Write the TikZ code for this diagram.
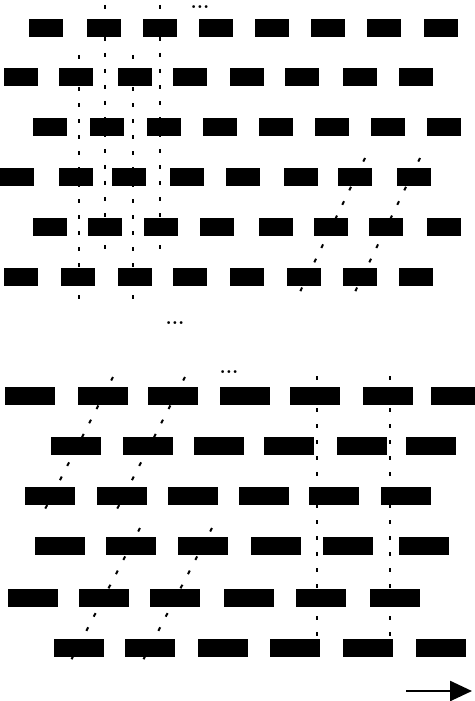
\documentclass[tikz,border=0pt]{standalone}
\usetikzlibrary{arrows.meta}
\tikzset{
  brick/.style={fill=black, inner sep=0pt, minimum height=18pt},
  short/.style={brick, minimum width=34pt},
  long/.style={brick, minimum width=50pt},
  guide/.style={line width=2pt, dash pattern=on 4pt off 12pt},
  gap/.style={font=\fontsize{20}{20}\selectfont\bfseries, inner sep=0pt}
}
\begin{document}
\begin{tikzpicture}[x=1pt,y=-1pt]
  \useasboundingbox (0,0) rectangle (474,701);
  % upper wall
  \foreach \y/\row [count=\r] in {28/{29,87,143,199,255,311,367,424},
      77/{4,59,118,173,230,285,343,399},
      127/{33,90,147,203,259,315,371,427},
      177/{0,59,112,170,226,284,338,397},
      227/{33,88,144,200,259,314,369,427},
      277/{4,61,118,173,230,287,343,399}}
    \foreach \x [count=\i] in \row
      \node[short] (u\r-\i) at (\x+17,\y) {};
  % lower wall
  \foreach \y/\row [count=\r] in {396/{5,78,148,220,290,363,431},
      446/{51,123,194,264,337,406},
      496/{25,97,168,239,309,381},
      546/{35,106,178,251,323,399},
      598/{8,79,150,224,296,370},
      648/{54,125,198,270,343,416}}
    \foreach \x [count=\i] in \row
      \node[long] (l\r-\i) at (\x+25,\y) {};
  \node[gap] (top) at (200,7) {...};
  \node[gap] (mid) at (175,323) {...};
  \node[gap] (low) at (229,372) {...};
  \coordinate (a1) at (79,55);   \coordinate (a2) at (79,305);
  \coordinate (b1) at (105,5);   \coordinate (b2) at (105,258);
  \coordinate (c1) at (133,55);  \coordinate (c2) at (133,305);
  \coordinate (d1) at (160,5);   \coordinate (d2) at (160,258);
  \coordinate (e1) at (365,158); \coordinate (e2) at (297,298);
  \coordinate (f1) at (420,158); \coordinate (f2) at (352,298);
  \coordinate (g1) at (113,377); \coordinate (g2) at (42,515);
  \coordinate (h1) at (185,377); \coordinate (h2) at (114,515);
  \coordinate (i1) at (140,528); \coordinate (i2) at (68,666);
  \coordinate (j1) at (212,528); \coordinate (j2) at (140,666);
  \coordinate (k1) at (317,376); \coordinate (k2) at (317,645);
  \coordinate (m1) at (390,376); \coordinate (m2) at (390,645);
  \draw[guide] (a1) -- (a2);
  \draw[guide] (b1) -- (b2);
  \draw[guide] (c1) -- (c2);
  \draw[guide] (d1) -- (d2);
  \draw[guide] (e1) -- (e2);
  \draw[guide] (f1) -- (f2);
  \draw[guide] (g1) -- (g2);
  \draw[guide] (h1) -- (h2);
  \draw[guide] (i1) -- (i2);
  \draw[guide] (j1) -- (j2);
  \draw[guide] (k1) -- (k2);
  \draw[guide] (m1) -- (m2);
  \coordinate (s) at (406,691);
  \coordinate (t) at (472,691);
  \draw[line width=2.5pt, -{Triangle[length=22pt,width=20pt]}] (s) -- (t);
\end{tikzpicture}
\end{document}
